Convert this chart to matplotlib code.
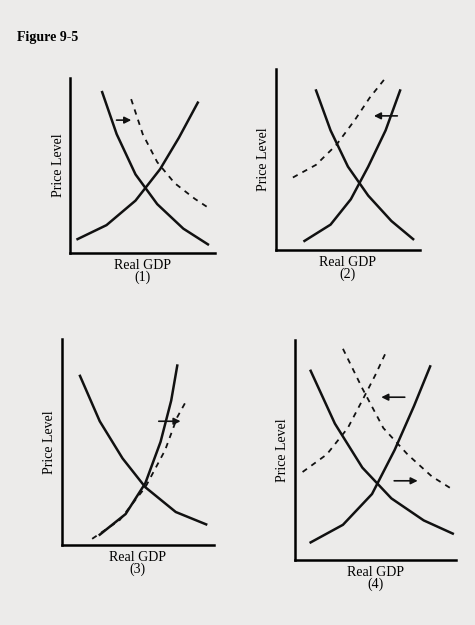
import matplotlib.pyplot as plt

plt.rcParams['font.family'] = ['Liberation Serif', 'DejaVu Serif']

# curves per panel in axes-fraction coordinates (x list, y list)
p1_ad = ([0.22, 0.32, 0.45, 0.6, 0.78, 0.95], [0.92, 0.68, 0.45, 0.28, 0.14, 0.05])
p1_as = ([0.05, 0.25, 0.45, 0.62, 0.75, 0.88], [0.08, 0.16, 0.3, 0.48, 0.66, 0.86])
p1_ad2 = ([0.42, 0.5, 0.6, 0.72, 0.86, 0.97], [0.88, 0.68, 0.52, 0.4, 0.31, 0.25])
p2_ad = ([0.28, 0.38, 0.5, 0.64, 0.8, 0.95], [0.88, 0.66, 0.46, 0.3, 0.16, 0.06])
p2_as = ([0.2, 0.38, 0.52, 0.64, 0.76, 0.86], [0.05, 0.14, 0.28, 0.46, 0.66, 0.88])
p2_as2 = ([0.12, 0.28, 0.42, 0.55, 0.65, 0.76], [0.4, 0.47, 0.58, 0.72, 0.84, 0.95])
p3_ad = ([0.12, 0.25, 0.4, 0.55, 0.75, 0.95], [0.82, 0.6, 0.42, 0.28, 0.16, 0.1])
p3_as = ([0.25, 0.42, 0.55, 0.65, 0.72, 0.76], [0.05, 0.15, 0.3, 0.5, 0.7, 0.87])
p3_as2 = ([0.2, 0.38, 0.55, 0.68, 0.76, 0.82], [0.03, 0.12, 0.28, 0.46, 0.62, 0.7])
p4_ad = ([0.1, 0.25, 0.42, 0.6, 0.8, 0.98], [0.86, 0.62, 0.42, 0.28, 0.18, 0.12])
p4_as = ([0.1, 0.3, 0.48, 0.62, 0.74, 0.84], [0.08, 0.16, 0.3, 0.5, 0.7, 0.88])
p4_ad2 = ([0.3, 0.42, 0.55, 0.7, 0.85, 0.98], [0.96, 0.78, 0.6, 0.48, 0.38, 0.32])
p4_as2 = ([0.05, 0.2, 0.33, 0.43, 0.5, 0.57], [0.4, 0.48, 0.6, 0.74, 0.84, 0.95])

panels = [
    ([0.148, 0.595, 0.305, 0.28], [p1_ad, p1_as], [p1_ad2], [((0.3, 0.76), (0.44, 0.76))], '(1)'),
    ([0.58, 0.6, 0.305, 0.29], [p2_ad, p2_as], [p2_as2], [((0.86, 0.74), (0.66, 0.74))], '(2)'),
    ([0.13, 0.128, 0.32, 0.33], [p3_ad, p3_as], [p3_as2], [((0.62, 0.6), (0.8, 0.6))], '(3)'),
    ([0.62, 0.104, 0.34, 0.352], [p4_ad, p4_as], [p4_ad2, p4_as2], [((0.7, 0.74), (0.52, 0.74)), ((0.6, 0.36), (0.78, 0.36))], '(4)'),
]

fig = plt.figure(figsize=(4.75, 6.25), dpi=100)
fig.patch.set_facecolor('#ecebea')
fig.text(0.035, 0.935, 'Figure 9-5', fontsize=10, fontweight='bold')

for rect, solids, dashes, arrows, num in panels:
    ax = fig.add_axes(rect)
    ax.set_facecolor('#ecebea')
    for xs, ys in solids:
        ax.plot(xs, ys, color='#111111', lw=1.8)
    for xs, ys in dashes:
        ax.plot(xs, ys, color='#111111', lw=1.3, ls=(0, (3, 3)))
    for a, b in arrows:
        ax.annotate('', xy=b, xytext=a, arrowprops=dict(arrowstyle='-|>', color='#111111', lw=1.2))
    ax.set_xlim(0, 1)
    ax.set_ylim(0, 1)
    ax.set_xticks([])
    ax.set_yticks([])
    for s in ['top', 'right']:
        ax.spines[s].set_visible(False)
    for s in ['left', 'bottom']:
        ax.spines[s].set_linewidth(1.8)
    ax.set_ylabel('Price Level', fontsize=10)
    ax.set_xlabel('Real GDP\n' + num, fontsize=10, linespacing=0.9)

fig.savefig('out.png', dpi=100, facecolor=fig.get_facecolor())
